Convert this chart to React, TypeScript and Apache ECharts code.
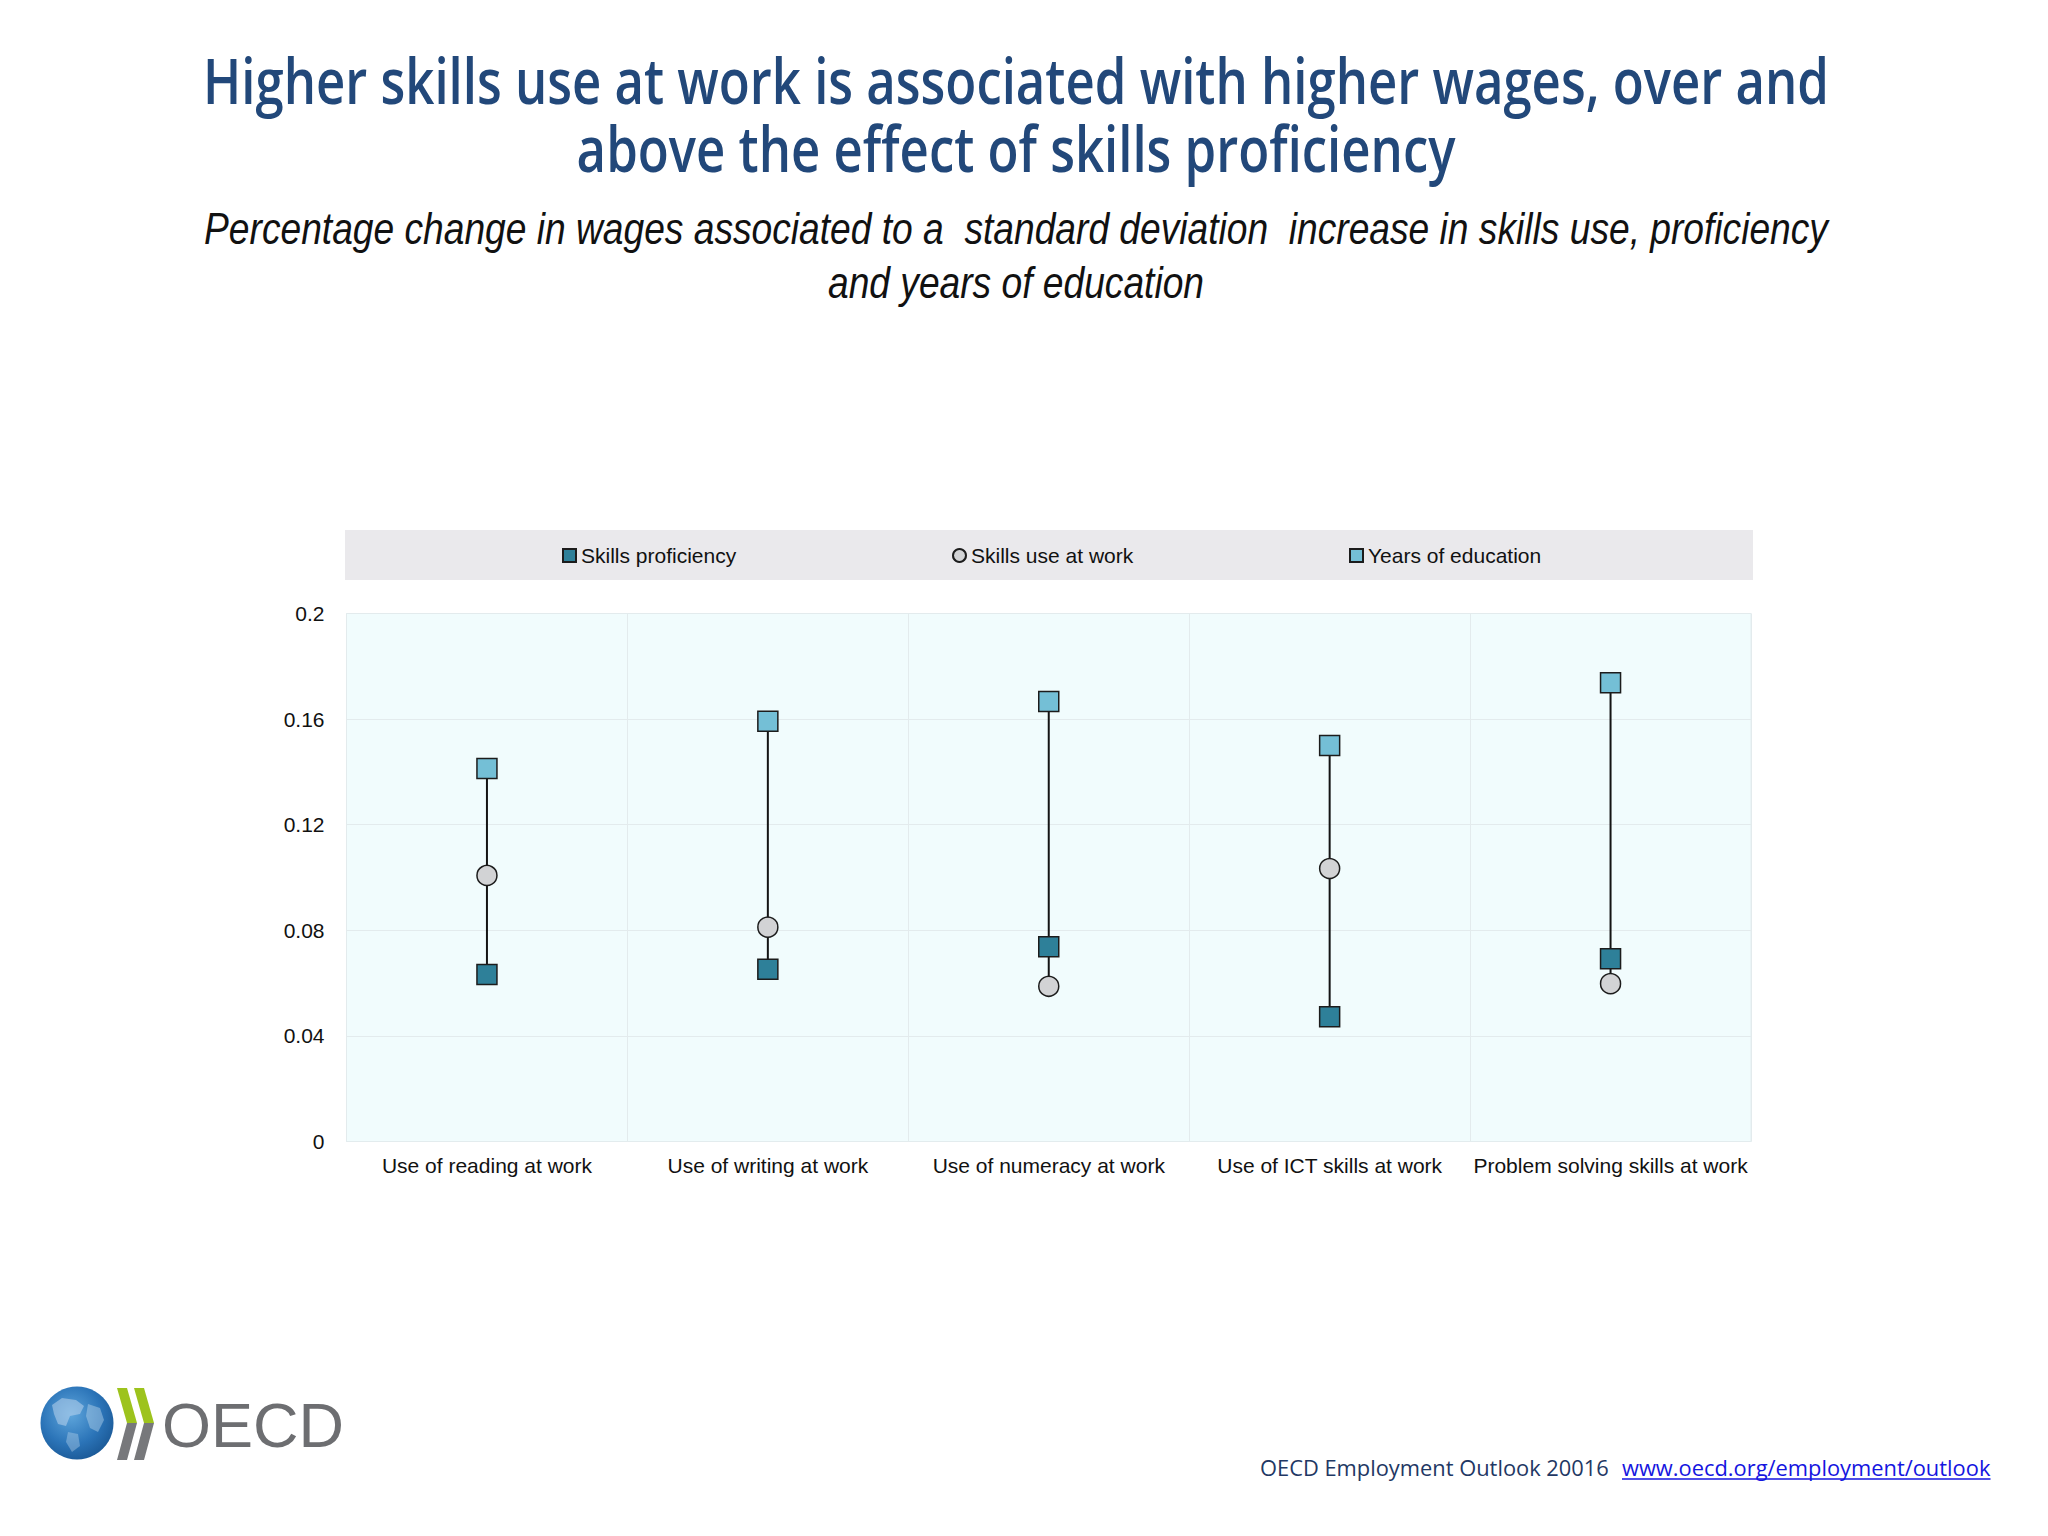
import React, { useEffect, useRef } from "react";
import * as echarts from "echarts";

// ---------- data ----------
const categories = [
  "Use of reading at work",
  "Use of writing at work",
  "Use of numeracy at work",
  "Use of ICT skills at work",
  "Problem solving skills at work",
];
const skillsProficiency = [0.0633, 0.0652, 0.0738, 0.0473, 0.0692];
const skillsUse = [0.1008, 0.0812, 0.0588, 0.1034, 0.0598];
const yearsEducation = [0.1413, 0.1592, 0.1667, 0.15, 0.1738];
const yMin = 0;
const yMax = 0.2;
const yInterval = 0.04;
const seriesNames = ["Skills proficiency", "Skills use at work", "Years of education"];
const titleLines = [
  "Higher skills use at work is associated with higher wages, over and",
  "above the effect of skills proficiency",
];
const subtitleLines = [
  "Percentage change in wages associated to a  standard deviation  increase in skills use, proficiency",
  "and years of education",
];
const sourceText = "OECD Employment Outlook 20016";
const sourceLink = "www.oecd.org/employment/outlook";
const logoText = "OECD";

// ---------- helpers ----------
function measure(text: string, font: string): number {
  const ctx = document.createElement("canvas").getContext("2d");
  if (!ctx) return 1;
  ctx.font = font;
  return ctx.measureText(text).width || 1;
}

const TITLE_FONT_SIZE = 64;
const TITLE_FONT = "'Open Sans', 'Noto Sans', sans-serif";
const SUB_FONT_SIZE = 44;
const SUB_FONT = "'Liberation Sans', Arial, sans-serif";
const FOOT_FONT_SIZE = 22;
const FOOT_FONT = "'Open Sans', 'Noto Sans', sans-serif";

export default function App() {
  const ref = useRef<HTMLDivElement>(null);

  useEffect(() => {
    if (!ref.current) return;
    const chart = echarts.init(ref.current, undefined, { renderer: "svg" });

    const titleScale =
      1626 / measure(titleLines[0], `600 ${TITLE_FONT_SIZE}px ${TITLE_FONT}`);
    const subScale =
      1625 / measure(subtitleLines[0], `italic ${SUB_FONT_SIZE}px ${SUB_FONT}`);
    const footScale = 349 / measure(sourceText, `${FOOT_FONT_SIZE}px ${FOOT_FONT}`);
    const linkW = measure(sourceLink, `${FOOT_FONT_SIZE}px ${FOOT_FONT}`) * footScale;

    const cx = 1016;
    const labelFont = "'Liberation Sans', Arial, sans-serif";

    const rangeData = categories.map((_, i) => [
      i,
      Math.min(skillsProficiency[i], skillsUse[i], yearsEducation[i]),
      Math.max(skillsProficiency[i], skillsUse[i], yearsEducation[i]),
    ]);

    const legendLeft = [562, 952, 1349];
    const icons = ["rect", "circle", "rect"];

    const markerBorder = { borderColor: "#1c1c1c", borderWidth: 1.5 };

    const option: any = {
      animation: false,
      backgroundColor: "#ffffff",
      grid: {
        left: 346.5,
        top: 613.5,
        width: 1404.5,
        height: 528,
        show: true,
        backgroundColor: "#F1FCFD",
        borderColor: "#E3ECEE",
        borderWidth: 1,
      },
      legend: seriesNames.map((n, i) => ({
        data: [{ name: n, icon: icons[i] }],
        left: legendLeft[i],
        top: 545,
        padding: 0,
        itemWidth: 13,
        itemHeight: 13,
        selectedMode: false,
        textStyle: { fontSize: 21, color: "#111", fontFamily: labelFont },
      })),
      xAxis: {
        type: "category",
        data: categories,
        boundaryGap: true,
        axisLine: { show: true, lineStyle: { color: "#E3ECEE" } },
        axisTick: { show: false },
        splitLine: { show: true, interval: 0, lineStyle: { color: "#E3EBED", width: 1 } },
        axisLabel: {
          interval: 0,
          fontSize: 21,
          color: "#111",
          fontFamily: labelFont,
          margin: 13,
        },
      },
      yAxis: {
        type: "value",
        min: yMin,
        max: yMax,
        interval: yInterval,
        axisLine: { show: false },
        axisTick: { show: false },
        splitLine: { show: true, lineStyle: { color: "#E3EBED", width: 1 } },
        axisLabel: {
          fontSize: 21,
          color: "#111",
          fontFamily: labelFont,
          margin: 22,
          formatter: (v: number) => String(+v.toFixed(2)),
        },
      },
      series: [
        {
          type: "custom",
          name: "range",
          silent: true,
          z: 1,
          data: rangeData,
          encode: { x: 0, y: [1, 2] },
          renderItem: (params: any, api: any) => {
            const p1 = api.coord([api.value(0), api.value(1)]);
            const p2 = api.coord([api.value(0), api.value(2)]);
            return {
              type: "line",
              shape: { x1: p1[0], y1: p1[1], x2: p2[0], y2: p2[1] },
              style: { stroke: "#141414", lineWidth: 2 },
            };
          },
        },
        {
          type: "scatter",
          name: seriesNames[0],
          data: skillsProficiency,
          symbol: "rect",
          symbolSize: 20,
          z: 3,
          itemStyle: { color: "#2E8099", opacity: 1, ...markerBorder },
        },
        {
          type: "scatter",
          name: seriesNames[1],
          data: skillsUse,
          symbol: "circle",
          symbolSize: 20,
          z: 3,
          itemStyle: { color: "#D2D3D5", opacity: 1, ...markerBorder },
        },
        {
          type: "scatter",
          name: seriesNames[2],
          data: yearsEducation,
          symbol: "rect",
          symbolSize: 20,
          z: 3,
          itemStyle: { color: "#74BFD6", opacity: 1, ...markerBorder },
        },
      ],
      graphic: [
        // legend band
        {
          type: "rect",
          z: -1,
          shape: { x: 345, y: 530, width: 1408, height: 50 },
          style: { fill: "#EAE9EC" },
        },
        // title
        ...titleLines.map((t, i) => ({
          type: "text",
          x: cx,
          y: [79, 147][i],
          scaleX: titleScale,
          style: {
            text: t,
            fill: "#22487A",
            font: `600 ${TITLE_FONT_SIZE}px ${TITLE_FONT}`,
            align: "center",
            verticalAlign: "middle",
          },
        })),
        // subtitle
        ...subtitleLines.map((t, i) => ({
          type: "text",
          x: cx,
          y: [229, 283][i],
          scaleX: subScale,
          style: {
            text: t,
            fill: "#111111",
            font: `italic ${SUB_FONT_SIZE}px ${SUB_FONT}`,
            align: "center",
            verticalAlign: "middle",
          },
        })),
        // footer
        {
          type: "text",
          x: 1260,
          y: 1467,
          scaleX: footScale,
          style: {
            text: sourceText,
            fill: "#1F3864",
            font: `${FOOT_FONT_SIZE}px ${FOOT_FONT}`,
            align: "left",
            verticalAlign: "middle",
          },
        },
        {
          type: "text",
          x: 1622,
          y: 1467,
          scaleX: footScale,
          style: {
            text: sourceLink,
            fill: "#1515E0",
            font: `${FOOT_FONT_SIZE}px ${FOOT_FONT}`,
            align: "left",
            verticalAlign: "middle",
          },
        },
        {
          type: "line",
          shape: { x1: 1622, y1: 1479, x2: 1622 + linkW, y2: 1479 },
          style: { stroke: "#1515E0", lineWidth: 1.5 },
        },
        // OECD logo: globe
        {
          type: "circle",
          shape: { cx: 77, cy: 1423, r: 36.5 },
          style: {
            fill: new echarts.graphic.RadialGradient(0.42, 0.38, 0.75, [
              { offset: 0, color: "#5FA6DC" },
              { offset: 0.55, color: "#2B74B8" },
              { offset: 1, color: "#154F8A" },
            ]),
          },
        },
        {
          type: "polygon",
          shape: {
            points: [
              [52, 1405], [62, 1398], [76, 1400], [84, 1406], [80, 1414],
              [70, 1416], [66, 1426], [58, 1424], [54, 1414],
            ],
          },
          style: { fill: "rgba(185,212,236,0.55)" },
        },
        {
          type: "polygon",
          shape: {
            points: [
              [88, 1404], [100, 1408], [104, 1420], [98, 1432], [90, 1428], [86, 1416],
            ],
          },
          style: { fill: "rgba(185,212,236,0.45)" },
        },
        {
          type: "polygon",
          shape: {
            points: [[68, 1432], [78, 1434], [80, 1446], [72, 1452], [66, 1442]],
          },
          style: { fill: "rgba(185,212,236,0.4)" },
        },
        // chevrons
        ...[0, 17].flatMap((dx) => [
          {
            type: "polygon",
            shape: {
              points: [
                [117 + dx, 1388],
                [127 + dx, 1388],
                [137 + dx, 1423],
                [127 + dx, 1423],
              ],
            },
            style: { fill: "#9DC31D" },
          },
          {
            type: "polygon",
            shape: {
              points: [
                [127 + dx, 1423],
                [137 + dx, 1423],
                [127 + dx, 1460],
                [117 + dx, 1460],
              ],
            },
            style: { fill: "#77787B" },
          },
        ]),
        {
          type: "text",
          x: 162,
          y: 1425,
          style: {
            text: logoText,
            fill: "#6D6E71",
            font: "63px 'Liberation Sans', Arial, sans-serif",
            align: "left",
            verticalAlign: "middle",
          },
        },
      ],
    };

    chart.setOption(option);
    return () => chart.dispose();
  }, []);

  return (
    <div
      ref={ref}
      style={{ position: "absolute", left: 0, top: 0, width: 2048, height: 1536 }}
    />
  );
}
